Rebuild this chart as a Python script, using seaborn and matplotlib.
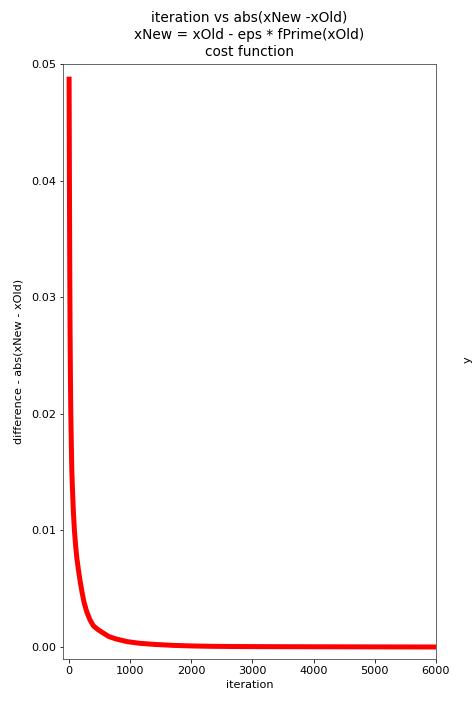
import matplotlib
matplotlib.use("Agg")
import matplotlib.pyplot as plt
import seaborn as sns
import pandas as pd

iterations = [0, 4, 8, 12, 16, 22, 28, 36, 44, 55, 70, 87, 105, 125, 153, 185, 215,
              246, 290, 344, 400, 470, 557, 650, 760, 950, 1150, 1400, 1700, 2000,
              2300, 2700, 3200, 4000, 5000, 6000]
differences = [0.0487, 0.042, 0.036, 0.031, 0.027, 0.023, 0.020, 0.0175, 0.0152,
               0.0135, 0.0116, 0.0100, 0.0088, 0.0077, 0.0066, 0.0055, 0.0046,
               0.0038, 0.0030, 0.0023, 0.0018, 0.0015, 0.0012, 0.0009, 0.0007,
               0.00046, 0.00032, 0.00022, 0.00014, 0.00009, 0.00006, 0.00004,
               0.00003, 0.00002, 0.00001, 0.0]

title_text = "iteration vs abs(xNew -xOld)\nxNew = xOld - eps * fPrime(xOld)\ncost function"
xlabel_text = "iteration"
ylabel_text = "difference - abs(xNew - xOld)"
right_label = "y"

df = pd.DataFrame({"iteration": iterations, "difference": differences})

plt.rcParams['font.family'] = ['DejaVu Sans']
fs = 11.3
fig = plt.figure(figsize=(474 / 72, 707 / 72), dpi=72)
ax = fig.add_axes([63.3 / 474, 1 - 659 / 707, (435.7 - 63.3) / 474, (659 - 64) / 707])
sns.lineplot(data=df, x="iteration", y="difference", color="red", linewidth=5, ax=ax)
ax.set_xlim(-95, 6000)
ax.set_ylim(-0.00103, 0.05)
ax.set_xticks([0, 1000, 2000, 3000, 4000, 5000, 6000])
ax.set_yticks([0.0, 0.01, 0.02, 0.03, 0.04, 0.05])
ax.set_yticklabels(["0.00", "0.01", "0.02", "0.03", "0.04", "0.05"])
ax.tick_params(labelsize=fs)
ax.set_title(title_text, fontsize=13.8, linespacing=1.3, pad=8)
ax.set_xlabel(xlabel_text, fontsize=fs, labelpad=4)
ax.set_ylabel(ylabel_text, fontsize=fs, labelpad=8)
for s in ax.spines.values():
    s.set_color("#444444")
fig.text(468 / 474, 1 - 360 / 707, right_label, rotation=90, ha="center", va="center", fontsize=fs)
fig.savefig("out.png", dpi=72)
